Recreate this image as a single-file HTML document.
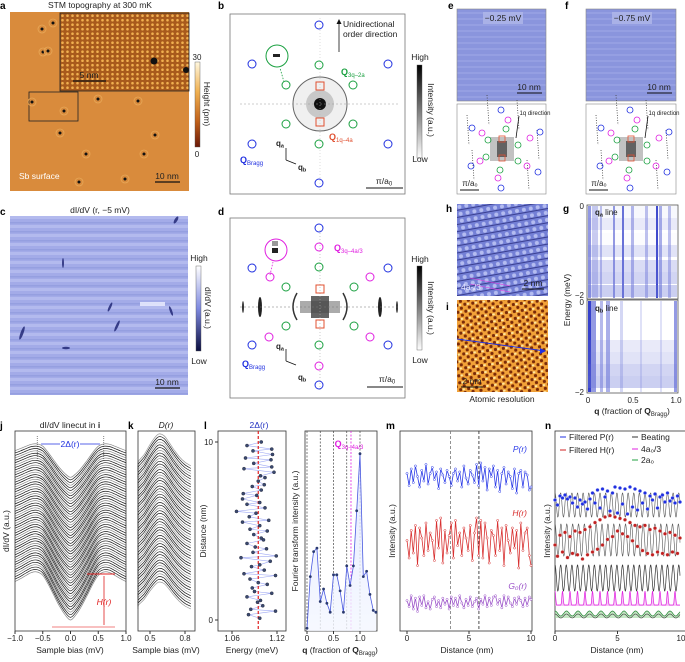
<!DOCTYPE html>
<html><head><meta charset="utf-8"><style>
body{margin:0;background:#fff;}
svg{display:block;font-family:"Liberation Sans",sans-serif;}
text{fill:#222;}
.pl{font-weight:bold;font-size:10px;fill:#000;}
.t{font-size:8.5px;}
.tk{font-size:8px;}
</style></head><body>
<svg id="fig" width="685" height="662" viewBox="0 0 685 662">
<defs>
<pattern id="latA" width="5" height="4.5" patternUnits="userSpaceOnUse"><rect width="5" height="4.5" fill="#a85a1c"/><circle cx="2.5" cy="2.2" r="1.3" fill="#f0b050"/></pattern>
<pattern id="latI" width="8" height="7" patternUnits="userSpaceOnUse" patternTransform="rotate(-8)"><rect width="8" height="7" fill="#f2a238"/><circle cx="2" cy="2" r="1.6" fill="#7a2a08"/><circle cx="6" cy="5.5" r="1.6" fill="#7a2a08"/><ellipse cx="5" cy="2" rx="1.4" ry="1" fill="#ffe9a0"/></pattern>
<pattern id="latH" width="7" height="7" patternUnits="userSpaceOnUse" patternTransform="rotate(-10)"><rect width="7" height="7" fill="#7480d6"/><circle cx="3.5" cy="3.5" r="2" fill="#b4bcf0"/><rect y="6" width="7" height="1" fill="#3a3f90"/></pattern>
<pattern id="stripC" width="178" height="9" patternUnits="userSpaceOnUse"><rect width="178" height="9" fill="#a3abe8"/><rect y="0" width="178" height="3" fill="#b3baee"/><rect y="6" width="178" height="1.5" fill="#959fe0"/></pattern>
<pattern id="stripE" width="90" height="6" patternUnits="userSpaceOnUse"><rect width="90" height="6" fill="#8a95dd"/><rect y="0" width="90" height="2" fill="#959fe2"/></pattern>
<linearGradient id="cbA" x1="0" y1="0" x2="0" y2="1"><stop offset="0" stop-color="#fff8e0"/><stop offset="0.35" stop-color="#f0b050"/><stop offset="0.7" stop-color="#c0601a"/><stop offset="1" stop-color="#6a1808"/></linearGradient>
<linearGradient id="cbC" x1="0" y1="0" x2="0" y2="1"><stop offset="0" stop-color="#ffffff"/><stop offset="0.5" stop-color="#7f8ae0"/><stop offset="1" stop-color="#0a0e40"/></linearGradient>
<linearGradient id="cbB" x1="0" y1="0" x2="0" y2="1"><stop offset="0" stop-color="#000"/><stop offset="1" stop-color="#fff"/></linearGradient>
<linearGradient id="ftFill" x1="0" y1="0" x2="0" y2="1"><stop offset="0" stop-color="#dfe6ff"/><stop offset="1" stop-color="#f4f7ff"/></linearGradient>
</defs>

<g>
<text class="pl" x="0" y="9">a</text>
<text class="t" x="100" y="8" text-anchor="middle">STM topography at 300 mK</text>
<rect x="10" y="12" width="179" height="179" fill="#d98b3c"/>
<rect x="60" y="13" width="129" height="78" fill="url(#latA)" stroke="#222" stroke-width="0.8"/>
<circle cx="154" cy="61" r="3.5" fill="#111"/><circle cx="186" cy="70" r="3" fill="#111"/>
<line x1="73" y1="81" x2="106" y2="81" stroke="#111" stroke-width="1.2"/>
<text class="t" x="89" y="78" text-anchor="middle" fill="#111">5 nm</text>
<rect x="29" y="92" width="49" height="29" fill="none" stroke="#222" stroke-width="0.8"/>
<g id="defects" fill="#111"></g>
<text class="t" x="19" y="179" style="fill:#fff">Sb surface</text>
<line x1="155" y1="182" x2="180" y2="182" stroke="#111" stroke-width="1.2"/>
<text class="t" x="167" y="179" text-anchor="middle">10 nm</text>
<rect x="195" y="62" width="5" height="85" fill="url(#cbA)" stroke="#555" stroke-width="0.4"/>
<text class="tk" x="197" y="60" text-anchor="middle">30</text>
<text class="tk" x="197" y="157" text-anchor="middle">0</text>
<text class="t" transform="translate(204,104) rotate(90)" text-anchor="middle">Height (pm)</text>
</g>

<g>
<text class="pl" x="0" y="215">c</text>
<text class="t" x="100" y="213" text-anchor="middle">dI/dV (r, −5 mV)</text>
<rect x="10" y="216" width="178" height="179" fill="url(#stripC)"/>
<g fill="#1a2070" opacity="0.8">
<ellipse cx="22" cy="333" rx="1.5" ry="7" transform="rotate(20 22 333)"/><ellipse cx="117" cy="326" rx="1.3" ry="6" transform="rotate(25 117 326)"/><ellipse cx="171" cy="311" rx="1.2" ry="5" transform="rotate(-20 171 311)"/><ellipse cx="110" cy="307" rx="1.2" ry="5" transform="rotate(25 110 307)"/><ellipse cx="63" cy="263" rx="1" ry="5"/><ellipse cx="176" cy="220" rx="1.5" ry="4" transform="rotate(30 176 220)"/><ellipse cx="66" cy="348" rx="4" ry="1.3"/>
</g>
<rect x="140" y="302" width="25" height="4" fill="#eef0ff" opacity="0.8"/>
<line x1="155" y1="388" x2="180" y2="388" stroke="#111" stroke-width="1.2"/>
<text class="t" x="167" y="385" text-anchor="middle">10 nm</text>
<text class="t" x="199" y="261" text-anchor="middle">High</text>
<rect x="196" y="266" width="5" height="85" fill="url(#cbC)" stroke="#555" stroke-width="0.4"/>
<text class="t" x="199" y="364" text-anchor="middle">Low</text>
<text class="t" transform="translate(205,308) rotate(90)" text-anchor="middle">dI/dV (a.u.)</text>
</g>

<g id="panelB">
<text class="pl" x="218" y="9">b</text>
<rect x="230" y="14" width="175" height="180" fill="#fff" stroke="#777" stroke-width="0.8"/>
<circle cx="320" cy="104" r="27" fill="#f0f0f0" stroke="#666" stroke-width="1"/>
<circle cx="320" cy="104" r="14" fill="#c8c8c8"/>
<circle cx="320" cy="104" r="6" fill="#111"/>
<line x1="240" y1="104" x2="400" y2="104" stroke="#999" stroke-width="0.6" stroke-dasharray="2 2"/>
<line x1="320" y1="18" x2="320" y2="190" stroke="#bbb" stroke-width="0.5" stroke-dasharray="1 2"/>
<line x1="339" y1="52" x2="339" y2="22" stroke="#111" stroke-width="0.8"/><path d="M336.5 24 L339 19 L341.5 24Z" fill="#111"/>
<text class="t" x="343" y="27">Unidirectional</text><text class="t" x="343" y="37">order direction</text>
<text x="341" y="75" style="font-size:9px;fill:#1aa040;font-weight:bold">Q<tspan style="font-size:6px;font-weight:normal" dy="2">3q–2a</tspan></text>
<text x="329" y="140" style="font-size:9px;fill:#e05030;font-weight:bold">Q<tspan style="font-size:6px;font-weight:normal" dy="2">1q–4a</tspan></text>
<text x="240" y="163" style="font-size:9px;fill:#2030e0;font-weight:bold">Q<tspan style="font-size:6px;font-weight:normal" dy="2">Bragg</tspan></text>
<circle cx="277" cy="56" r="11" fill="none" stroke="#1aa040" stroke-width="1"/><rect x="273" y="54" width="7" height="3" fill="#222"/>
<line x1="284" y1="82" x2="280" y2="68" stroke="#1aa040" stroke-dasharray="1.5 1.5" stroke-width="0.8"/>
<path d="M286 160 L286 148 M286 160 L296 164" stroke="#111" stroke-width="0.8" fill="none"/>
<text x="276" y="146" style="font-size:8px;font-weight:bold">q<tspan style="font-size:5.5px" dy="1.5">a</tspan></text>
<text x="298" y="170" style="font-size:8px;font-weight:bold">q<tspan style="font-size:5.5px" dy="1.5">b</tspan></text>
<line x1="366" y1="188" x2="403" y2="188" stroke="#111" stroke-width="1"/>
<text class="t" x="384" y="184" text-anchor="middle">π/a<tspan style="font-size:6px" dy="1.5">0</tspan></text>
</g>
<g>
<text class="t" x="420" y="60" text-anchor="middle">High</text>
<rect x="417" y="65" width="5" height="93" fill="url(#cbB)" stroke="#555" stroke-width="0.4"/>
<text class="t" x="420" y="162" text-anchor="middle">Low</text>
<text class="t" transform="translate(428,110) rotate(90)" text-anchor="middle">Intensity (a.u.)</text>
</g>

<g id="panelD">
<text class="pl" x="218" y="215">d</text>
<rect x="230" y="218" width="175" height="180" fill="#fff" stroke="#777" stroke-width="0.8"/>
<rect x="311" y="296" width="18" height="22" fill="#222" opacity="0.7"/>
<rect x="300" y="301" width="40" height="12" fill="#444" opacity="0.45"/>
<path d="M297 293 Q289 307 297 320" stroke="#333" fill="none" stroke-width="1.5"/><path d="M343 293 Q351 307 343 320" stroke="#333" fill="none" stroke-width="1.5"/>
<ellipse cx="260" cy="307" rx="2" ry="10" fill="#222"/><ellipse cx="380" cy="307" rx="2" ry="10" fill="#222"/>
<ellipse cx="243" cy="307" rx="1" ry="6" fill="#333"/><ellipse cx="397" cy="307" rx="1" ry="6" fill="#333"/>
<line x1="240" y1="307" x2="400" y2="307" stroke="#777" stroke-width="0.6" stroke-dasharray="2 2"/>
<line x1="320" y1="230" x2="320" y2="390" stroke="#aaa" stroke-width="0.6" stroke-dasharray="1 2"/>
<text x="334" y="251" style="font-size:9px;fill:#e020e0;font-weight:bold">Q<tspan style="font-size:6px;font-weight:normal" dy="2">3q–4a/3</tspan></text>
<text x="242" y="367" style="font-size:9px;fill:#2030e0;font-weight:bold">Q<tspan style="font-size:6px;font-weight:normal" dy="2">Bragg</tspan></text>
<circle cx="276" cy="250" r="11" fill="none" stroke="#e020e0" stroke-width="1"/><rect x="272" y="248" width="6" height="5" fill="#222"/><rect x="272" y="241" width="6" height="5" fill="#999"/>
<line x1="270" y1="275" x2="273" y2="262" stroke="#e020e0" stroke-dasharray="1.5 1.5" stroke-width="0.8"/>
<path d="M286 361 L286 349 M286 361 L296 365" stroke="#111" stroke-width="0.8" fill="none"/>
<text x="276" y="349" style="font-size:8px;font-weight:bold">q<tspan style="font-size:5.5px" dy="1.5">a</tspan></text>
<text x="298" y="380" style="font-size:8px;font-weight:bold">q<tspan style="font-size:5.5px" dy="1.5">b</tspan></text>
<line x1="367" y1="387" x2="403" y2="387" stroke="#111" stroke-width="1"/>
<text class="t" x="387" y="382" text-anchor="middle">π/a<tspan style="font-size:6px" dy="1.5">0</tspan></text>
</g>
<g>
<text class="t" x="420" y="262" text-anchor="middle">High</text>
<rect x="417" y="266" width="5" height="84" fill="url(#cbB)" stroke="#555" stroke-width="0.4"/>
<text class="t" x="420" y="363" text-anchor="middle">Low</text>
<text class="t" transform="translate(428,308) rotate(90)" text-anchor="middle">Intensity (a.u.)</text>
</g>

<g>
<text class="pl" x="448" y="9">e</text>
<rect x="457" y="9" width="89" height="92" fill="url(#stripE)" stroke="#888" stroke-width="0.6"/>
<rect x="483" y="12" width="40" height="12" fill="#b0b8ea" opacity="0.8"/>
<text class="t" x="503" y="21" text-anchor="middle">−0.25 mV</text>
<line x1="517" y1="93" x2="542" y2="93" stroke="#111" stroke-width="1"/><text class="t" x="529" y="90" text-anchor="middle">10 nm</text>
<rect x="457" y="104" width="89" height="90" fill="#fff" stroke="#888" stroke-width="0.6"/>
</g>
<g>
<text class="pl" x="565" y="9">f</text>
<rect x="586" y="9" width="90" height="92" fill="url(#stripE)" stroke="#888" stroke-width="0.6"/>
<rect x="612" y="12" width="40" height="12" fill="#b0b8ea" opacity="0.8"/>
<text class="t" x="632" y="21" text-anchor="middle">−0.75 mV</text>
<line x1="647" y1="93" x2="672" y2="93" stroke="#111" stroke-width="1"/><text class="t" x="659" y="90" text-anchor="middle">10 nm</text>
<rect x="586" y="104" width="90" height="90" fill="#fff" stroke="#888" stroke-width="0.6"/>
</g>

<g>
<text class="pl" x="446" y="212">h</text>
<rect x="457" y="204" width="91" height="92" fill="url(#latH)"/>
<line x1="470" y1="278" x2="510" y2="286" stroke="#e040e0" stroke-width="0.6"/><line x1="470" y1="284" x2="510" y2="292" stroke="#e040e0" stroke-width="0.6"/>
<text class="t" x="461" y="290" style="fill:#e8e8ff">4a<tspan style="font-size:6px" dy="1.5">0</tspan><tspan dy="-1.5">/3</tspan></text>
<line x1="522" y1="289" x2="544" y2="289" stroke="#111" stroke-width="1"/><text class="t" x="533" y="286" text-anchor="middle">2 nm</text>
</g>
<g>
<text class="pl" x="446" y="310">i</text>
<rect x="457" y="300" width="91" height="92" fill="url(#latI)"/>
<line x1="457" y1="339" x2="545" y2="351" stroke="#2030e0" stroke-width="1"/><path d="M546 351 L540 348 L540 354Z" fill="#2030e0"/>
<line x1="461" y1="387" x2="483" y2="387" stroke="#111" stroke-width="1"/><text class="t" x="472" y="384" text-anchor="middle">2 nm</text>
<text class="t" x="502" y="402" text-anchor="middle">Atomic resolution</text>
</g>

<g id="panelG">
<text class="pl" x="563" y="212">g</text>
<rect x="587" y="205" width="91" height="94" fill="#fff" stroke="#555" stroke-width="0.8"/>
<rect x="587" y="300" width="91" height="93" fill="#fff" stroke="#555" stroke-width="0.8"/>
</g>
<g>
<text class="tk" x="584" y="209" text-anchor="end">0</text>
<text class="tk" x="584" y="298" text-anchor="end">−2</text>
<text class="tk" x="584" y="305" text-anchor="end">0</text>
<text class="tk" x="584" y="395" text-anchor="end">−2</text>
<text class="t" transform="translate(570,300) rotate(-90)" text-anchor="middle">Energy (meV)</text>
<text class="tk" x="588" y="403" text-anchor="middle">0</text>
<text class="tk" x="633" y="403" text-anchor="middle">0.5</text>
<text class="tk" x="676" y="403" text-anchor="middle">1.0</text>
<text class="t" x="632" y="414" text-anchor="middle"><tspan font-weight="bold">q</tspan> (fraction of <tspan font-weight="bold">Q</tspan><tspan style="font-size:6px" dy="2">Bragg</tspan><tspan dy="-2">)</tspan></text>
<text x="595" y="215" style="font-size:8px;font-weight:bold">q<tspan style="font-size:5.5px" dy="1.5">a</tspan><tspan dy="-1.5" font-weight="normal"> line</tspan></text>
<text x="595" y="311" style="font-size:8px;font-weight:bold">q<tspan style="font-size:5.5px" dy="1.5">b</tspan><tspan dy="-1.5" font-weight="normal"> line</tspan></text>
</g>

<g>
<text class="pl" x="0" y="429">j</text>
<text class="t" x="70" y="428" text-anchor="middle">dI/dV linecut in <tspan font-weight="bold">i</tspan></text>
<text class="pl" x="128" y="429">k</text>
<text class="t" x="166" y="428" text-anchor="middle" font-style="italic">D(r)</text>
<text class="pl" x="204" y="429">l</text>
<text class="t" x="259" y="428" text-anchor="middle" style="fill:#2030c0">2Δ(r)</text>
<text class="pl" x="386" y="429">m</text>
<text class="pl" x="545" y="429">n</text>
</g>
<g id="charts"></g>
</svg>
<script>
// ===== data arrays =====
const linecutBias = [-1.0,-0.9,-0.8,-0.7,-0.6,-0.5,-0.4,-0.3,-0.2,-0.1,0,0.1,0.2,0.3,0.4,0.5,0.6,0.7,0.8,0.9,1.0];
const linecutShape = [0.80,0.86,0.93,0.99,1.0,0.93,0.74,0.51,0.29,0.11,0.0,0.11,0.29,0.51,0.74,0.93,1.0,0.99,0.93,0.86,0.80];
const linecutOffsets = [0,2.6,5.3,7.9,10.6,13.2,15.9,18.5,21.1,23.8,26.4,29.1,31.7,34.4,37.0,39.6,42.3,44.9,47.6,50.2,52.8,55.5,58.1,60.8,63.4,66.1,68.7,71.3,74.0,76.6,79.3,81.9,84.6,87.2,89.8,92.5,95.1,97.8,100.4,103.1,105.7,108.3,111.0,113.6,116.3,118.9,121.6,124.2,126.8,129.5,132.1,134.8,137.4,140.1,142.7];
const dBias = [0.35,0.40,0.45,0.50,0.55,0.58,0.62,0.66,0.70,0.75,0.80,0.85];
const dShape = [0.10,0.22,0.42,0.70,0.93,1.0,0.95,0.78,0.58,0.36,0.20,0.10];
const gapDistance = [0.1,0.3,0.5,0.6,0.8,1.0,1.1,1.3,1.5,1.6,1.8,2.0,2.1,2.3,2.5,2.6,2.8,3.0,3.1,3.3,3.5,3.6,3.8,4.0,4.1,4.3,4.5,4.6,4.8,5.0,5.1,5.3,5.5,5.6,5.8,6.0,6.1,6.3,6.5,6.6,6.8,7.0,7.1,7.3,7.5,7.6,7.8,8.0,8.1,8.3,8.5,8.6,8.8,9.0,9.1,9.3,9.5,9.6,9.8,10.0];
const gapEnergy = [1.097,1.082,1.118,1.085,1.101,1.094,1.098,1.080,1.113,1.090,1.087,1.107,1.095,1.084,1.118,1.076,1.103,1.086,1.097,1.111,1.072,1.119,1.088,1.106,1.091,1.080,1.102,1.099,1.089,1.107,1.084,1.097,1.074,1.109,1.083,1.092,1.066,1.104,1.080,1.097,1.074,1.093,1.075,1.099,1.087,1.103,1.095,1.104,1.098,1.116,1.076,1.113,1.089,1.112,1.078,1.114,1.088,1.113,1.080,1.099];
const ftQ = [0,0.0625,0.125,0.1875,0.25,0.3125,0.375,0.4375,0.5,0.5625,0.625,0.6875,0.75,0.8125,0.875,0.9375,1.0,1.0625,1.125,1.1875,1.25,1.3];
const ftIntensity = [0.1,3.0,4.4,4.6,1.6,2.3,1.5,1.0,3.1,3.1,2.2,1.0,3.6,2.5,3.6,6.7,9.9,3.0,3.3,2.0,1.1,1.0];
const ftGuideQ = [0,0.25,0.5,0.75,1.0];
const mDistance = [0,0.17,0.34,0.51,0.68,0.85,1.02,1.19,1.36,1.53,1.7,1.87,2.04,2.21,2.38,2.55,2.72,2.89,3.06,3.23,3.4,3.57,3.74,3.91,4.08,4.25,4.42,4.59,4.76,4.93,5.1,5.27,5.44,5.61,5.78,5.95,6.12,6.29,6.46,6.63,6.8,6.97,7.14,7.31,7.48,7.65,7.82,7.99,8.16,8.33,8.5,8.67,8.84,9.01,9.18,9.35,9.52,9.69,9.86,10.0];
const mP = [0.3,-0.5,0.6,-0.3,0.8,0.1,-0.6,0.5,-0.2,0.9,-0.4,0.3,0.7,-0.1,0.4,-0.7,0.6,0.2,-0.3,0.5,0.1,-0.5,0.3,0.6,-0.2,0.4,-0.6,0.8,0.0,-0.4,0.5,0.2,-0.3,0.9,-0.5,1.0,-0.2,0.7,-0.8,0.6,0.1,0.8,-0.6,0.5,-0.9,0.3,0.7,-0.4,0.4,0.1,-0.7,0.6,-1.0,0.3,0.5,-0.6,0.4,0.2,-0.8,-0.6];
const mH = [0.1,-0.6,0.5,-0.4,0.7,-0.9,0.6,0.2,-0.5,0.8,-0.3,0.4,0.1,-0.7,0.9,-0.2,1.0,-0.8,0.5,-0.4,0.3,0.8,-0.6,0.9,-0.1,0.4,-0.5,0.6,0.2,-0.3,0.7,-0.7,0.4,1.0,-0.5,0.9,-0.6,0.8,0.2,-0.8,0.5,0.3,-0.5,0.9,-0.3,0.6,-0.9,0.7,0.1,-0.4,0.6,-0.2,0.5,-1.0,0.8,-0.3,0.4,0.6,-0.5,-0.9];
const mG = [0.2,-0.3,0.6,-0.5,0.4,-0.7,0.5,-0.2,0.6,-0.4,0.1,-0.5,0.3,0.5,-0.3,0.2,-0.4,0.4,-0.1,0.3,-0.5,0.5,-0.2,0.4,-0.3,0.6,0.0,-0.4,0.3,-0.2,0.5,-0.3,0.1,0.4,-0.5,0.3,-0.1,0.6,-0.3,0.4,-0.2,0.5,0.6,-0.1,0.3,-0.4,0.6,-0.2,0.5,0.0,-0.3,0.4,-0.1,0.5,0.2,-0.3,0.4,-0.2,0.5,0.3];
const mGuides = [3.5,5.8];
const nDistance = [0,0.2,0.4,0.6,0.8,1.0,1.2,1.4,1.6,1.8,2.0,2.2,2.4,2.6,2.8,3.0,3.2,3.4,3.6,3.8,4.0,4.2,4.4,4.6,4.8,5.0,5.2,5.4,5.6,5.8,6.0,6.2,6.4,6.6,6.8,7.0,7.2,7.4,7.6,7.8,8.0,8.2,8.4,8.6,8.8,9.0,9.2,9.4,9.6,9.8,10.0];
const nP = [0.5,0.0,0.9,0.7,1.0,0.6,0.8,0.2,0.7,-0.2,0.5,0.1,0.3,-0.4,0.6,1.2,0.2,1.5,-0.3,1.6,0.8,1.4,-0.6,1.2,1.8,-0.8,1.7,0.1,1.6,-0.9,1.8,-0.2,1.6,-0.5,1.4,0.2,1.2,-0.4,0.9,0.5,1.1,-0.3,0.8,1.0,0.3,1.2,0.4,0.7,0.2,0.9,0.3];
const nH = [0.0,-0.8,0.7,-0.5,0.9,-0.9,0.6,-0.6,1.0,-0.7,0.9,-1.0,1.1,-0.7,1.3,-0.5,1.6,-0.3,1.8,0.0,2.0,0.4,2.1,0.6,2.0,1.0,1.9,0.8,1.8,0.6,1.6,0.3,1.4,-0.1,1.3,-0.4,1.4,-0.6,1.1,-0.7,1.2,-0.5,1.0,-0.6,0.8,-0.7,0.9,-0.5,0.7,-0.6,0.5];
const beatingPeriods = [0.45,0.47];
const period43 = 0.6;
const period2 = 0.92;

// ===== helpers =====
const NS = "http://www.w3.org/2000/svg";
const root = document.getElementById('charts');
function mk(tag, attrs, parent){ const e=document.createElementNS(NS,tag); for(const k in attrs) e.setAttribute(k,attrs[k]); (parent||root).appendChild(e); return e; }
function txt(x,y,s,cls,anchor,parent){ const t=mk('text',{x:x,y:y,class:cls||'tk','text-anchor':anchor||'middle'},parent); t.textContent=s; return t; }
function smooth(pts){ let d='M'+pts[0][0].toFixed(1)+' '+pts[0][1].toFixed(1); for(let i=0;i<pts.length-1;i++){const p0=pts[Math.max(i-1,0)],p1=pts[i],p2=pts[i+1],p3=pts[Math.min(i+2,pts.length-1)]; d+=' C'+(p1[0]+(p2[0]-p0[0])/6).toFixed(1)+' '+(p1[1]+(p2[1]-p0[1])/6).toFixed(1)+' '+(p2[0]-(p3[0]-p1[0])/6).toFixed(1)+' '+(p2[1]-(p3[1]-p1[1])/6).toFixed(1)+' '+p2[0].toFixed(1)+' '+p2[1].toFixed(1);} return d; }
function poly(pts){ return pts.map((p,i)=>(i?'L':'M')+p[0].toFixed(1)+' '+p[1].toFixed(1)).join(' '); }

// ===== image decorations =====
(function(){
 const dg=document.getElementById('defects');
 const defects=[[53,23],[42,29],[43,52],[48,51],[64,111],[98,99],[138,101],[60,133],[155,135],[86,154],[144,154],[79,182],[125,179],[32,102]];
 defects.forEach(p=>{ const r=mk('circle',{cx:p[0],cy:p[1],r:4,fill:'none',stroke:'#e8a858','stroke-width':0.8},dg);
  
 const c=mk('circle',{cx:p[0],cy:p[1],r:1.5,fill:'#111'},dg);
   });
 const b=document.getElementById('panelB'), d=document.getElementById('panelD');
 const circ=(g,arr,col)=>arr.forEach(p=>{const c=mk('circle',{cx:p[0],cy:p[1],r:4,fill:'none',stroke:col,'stroke-width':1},g);
  });
 const sq=(g,arr)=>arr.forEach(p=>{const s=mk('rect',{x:p[0]-4,y:p[1]-4,width:8,height:8,fill:'none',stroke:'#e05030','stroke-width':1},g);
  });
 circ(b,[[319,25],[252,64],[388,64],[252,144],[388,144],[319,183]],'#2030e0');
 circ(b,[[319,65],[286,85],[353,85],[286,124],[353,124],[319,144]],'#1aa040');
 sq(b,[[320,86],[320,122]]);
 circ(d,[[319,228],[252,268],[388,268],[252,345],[388,345],[319,385]],'#2030e0');
 circ(d,[[319,247],[270,277],[370,277],[269,337],[370,337],[319,366]],'#e020e0');
 circ(d,[[319,267],[286,287],[354,287],[286,326],[354,326],[319,345]],'#1aa040');
 sq(d,[[320,289],[320,324]]);
 [[457,0],[586,1]].forEach(([x0,k])=>{
  const cx=x0+45, cy=149;
  const g=mk('g',{});
   
  mk('rect',{x:cx-12,y:cy-12,width:24,height:24,fill:'#777',opacity:0.45},g);
  mk('rect',{x:cx-5,y:cy-8,width:10,height:16,fill:'#222',opacity:0.6},g);
  [[x0+10,130],[x0+80,145],[x0+15,165],[x0+30,110],[x0+60,115],[x0+70,175]].forEach(p=>mk('line',{x1:p[0],y1:p[1]-15,x2:p[0]+2,y2:p[1]+15,stroke:'#444','stroke-width':0.8,'stroke-dasharray':'1 1.5'},g));
  const B=[[cx-30,128],[cx+38,132],[cx-31,166],[cx+36,172],[cx-1,110],[cx-1,188]];
  const M=[[cx-20,133],[cx+28,138],[cx-22,161],[cx+25,166],[cx+6,120],[cx-4,178]];
  const G=[[cx-14,140],[cx+16,145],[cx-16,157],[cx+16,161],[cx+4,129],[cx-2,170]];
  B.forEach(p=>mk('circle',{cx:p[0],cy:p[1],r:3,fill:'none',stroke:'#2030e0','stroke-width':0.8},g));
  M.forEach(p=>mk('circle',{cx:p[0],cy:p[1],r:3,fill:'none',stroke:'#e020e0','stroke-width':0.8},g));
  G.forEach(p=>mk('circle',{cx:p[0],cy:p[1],r:3,fill:'none',stroke:'#1aa040','stroke-width':0.8},g));
  mk('rect',{x:cx-3,y:136,width:6,height:6,fill:'none',stroke:'#e05030','stroke-width':0.8},g);
  mk('rect',{x:cx-3,y:155,width:6,height:6,fill:'none',stroke:'#e05030','stroke-width':0.8},g);
  mk('line',{x1:cx+14,y1:138,x2:cx+17,y2:116,stroke:'#111','stroke-width':0.8},g);
  txt(cx+33,115,'1q direction','tk','middle',g).setAttribute('style','font-size:6px');
  mk('line',{x1:x0+3,y1:190,x2:x0+22,y2:190,stroke:'#111','stroke-width':1},g);
  txt(x0+13,186,'π/a₀','tk','middle',g);
 });
 const pg=document.getElementById('panelG');
 const gCols=[[588,3,0.5],[592,6,0.25],[600,2,0.3],[613,2,0.5],[622,2,0.7],[631,3,0.35],[645,3,0.3],[656,2,0.9],[659,3,0.4],[668,3,0.3]];
 gCols.forEach(c=>{const r=mk('rect',{x:c[0],y:206,width:c[1],height:92,fill:'#2a36c8',opacity:c[2]},pg);  });
 const gRows=[[206,0.05],[218,0.15],[233,0.02],[245,0.2],[260,0.25],[272,0.3],[285,0.35]];
 gRows.forEach(r=>mk('rect',{x:588,y:r[0],width:89,height:12,fill:'#6b75d8',opacity:r[1]},pg));
 const gCols2=[[588,3,0.95],[591,5,0.5],[600,3,0.35],[606,4,0.4],[620,3,0.2],[640,2,0.15],[660,2,0.15],[674,3,0.5]];
 gCols2.forEach(c=>{const r=mk('rect',{x:c[0],y:301,width:c[1],height:91,fill:'#2a36c8',opacity:c[2]},pg);  });
 [[340,0.15],[352,0.2],[364,0.3],[376,0.35]].forEach(r=>mk('rect',{x:588,y:r[0],width:89,height:12,fill:'#6b75d8',opacity:r[1]},pg));
})();

// ===== panel j =====
(function(){
 const X0=15,X1=126,Y0=431,Y1=631;
 const g=mk('g',{});  
 const x=b=>70.5+b*55.5;
 linecutOffsets.forEach((o,i)=>{
  const depth=48-i*0.27;
  const pts=linecutBias.map((b,k)=>[x(b),620-o-linecutShape[k]*depth]);
  const path=mk('path',{d:smooth(pts),fill:'none',stroke:i%3===0?'#888':'#1a1a1a','stroke-width':0.7},g);
   
 });
 mk('rect',{x:X0,y:Y0,width:X1-X0,height:Y1-Y0,fill:'none',stroke:'#333','stroke-width':0.8},g);
 [-1,-0.5,0,0.5,1].forEach(v=>{mk('line',{x1:x(v),y1:Y1,x2:x(v),y2:Y1+3,stroke:'#333'},g); txt(x(v),641,(v<0?'−':'')+Math.abs(v).toFixed(1));});
 txt(70,653,'Sample bias (mV)','t');
 const yl=txt(0,0,'dI/dV (a.u.)','t'); yl.setAttribute('transform','translate(9,531) rotate(-90)');
 mk('line',{x1:x(-0.6),y1:436,x2:x(-0.6),y2:460,stroke:'#333','stroke-dasharray':'1 1','stroke-width':0.6},g);
 mk('line',{x1:x(0.6),y1:436,x2:x(0.6),y2:460,stroke:'#333','stroke-dasharray':'1 1','stroke-width':0.6},g);
 mk('line',{x1:x(-0.53),y1:444,x2:x(0.53),y2:444,stroke:'#2030e0','stroke-width':0.8},g);
 mk('rect',{x:60,y:440,width:20,height:9,fill:'#fff'},g);
 const l=txt(70,447,'2Δ(r)','t'); l.setAttribute('style','fill:#2030e0');
 mk('line',{x1:87,y1:574,x2:115,y2:574,stroke:'#e02020','stroke-width':1},g);
 mk('line',{x1:52,y1:627,x2:115,y2:627,stroke:'#f08080','stroke-width':1},g);
 mk('line',{x1:104,y1:576,x2:104,y2:625,stroke:'#e02020','stroke-width':0.8},g);
 const h=txt(104,605,'H(r)','t'); h.setAttribute('style','fill:#e02020;font-style:italic');
})();

// ===== panel k =====
(function(){
 const X0=138,X1=195,Y0=431,Y1=631;
 const g=mk('g',{});  
 const x=b=>150+(b-0.5)*116.7;
 linecutOffsets.forEach((o,i)=>{
  const pts=dBias.map((b,k)=>[Math.max(X0,Math.min(X1,x(b))),612-o-dShape[k]*(30+i*0.1)]);
  const p=mk('path',{d:smooth(pts),fill:'none',stroke:i%3===0?'#999':'#1a1a1a','stroke-width':0.7},g);
   
 });
 mk('rect',{x:X0,y:Y0,width:X1-X0,height:Y1-Y0,fill:'none',stroke:'#333','stroke-width':0.8},g);
 [0.5,0.8].forEach(v=>{mk('line',{x1:x(v),y1:Y1,x2:x(v),y2:Y1+3,stroke:'#333'},g); txt(x(v),641,v.toFixed(1));});
 txt(166,653,'Sample bias (mV)','t');
})();

// ===== panel l (gap) =====
(function(){
 const X0=218,X1=286,Y0=431,Y1=631;
 const g=mk('g',{});  
 const x=e=>232+(e-1.06)*750, y=d=>620-d*17.8;
 mk('rect',{x:X0,y:Y0,width:X1-X0,height:Y1-Y0,fill:'#fff',stroke:'#333','stroke-width':0.8},g);
 const pts=gapEnergy.map((e,i)=>[x(e),y(gapDistance[i])]);
 mk('path',{d:poly(pts),fill:'none',stroke:'#a0aaf4','stroke-width':0.6},g);
 mk('line',{x1:x(1.095),y1:Y0,x2:x(1.095),y2:Y1,stroke:'#e02020','stroke-width':1.2,'stroke-dasharray':'3 2'},g);
 pts.forEach(p=>{const c=mk('circle',{cx:p[0],cy:p[1],r:1.6,fill:'#3a4a70',stroke:'#223','stroke-width':0.4},g);
  });
 [1.06,1.12].forEach(v=>{mk('line',{x1:x(v),y1:Y1,x2:x(v),y2:Y1+3,stroke:'#333'},g); txt(x(v),641,v.toFixed(2));});
 [0,10].forEach(v=>{mk('line',{x1:X0-3,y1:y(v),x2:X0,y2:y(v),stroke:'#333'},g); txt(X0-5,y(v)+3,String(v),'tk','end');});
 const yl=txt(0,0,'Distance (nm)','t'); yl.setAttribute('transform','translate(206,531) rotate(-90)');
 txt(252,653,'Energy (meV)','t');
})();

// ===== panel l (FT) =====
(function(){
 const X0=305,X1=377,Y0=431,Y1=631;
 const g=mk('g',{});  
 const x=q=>307+q*53, y=v=>630-v*17.8;
 mk('rect',{x:X0,y:Y0,width:X1-X0,height:Y1-Y0,fill:'#fff',stroke:'#333','stroke-width':0.8},g);
 ftGuideQ.forEach((q,i)=>mk('line',{x1:x(q),y1:Y0,x2:x(q),y2:Y1,stroke:'#444','stroke-width':0.7,'stroke-dasharray':'2 1.5'},g));
 mk('line',{x1:x(0.83),y1:Y0,x2:x(0.83),y2:Y1,stroke:'#e020e0','stroke-width':0.8,'stroke-dasharray':'2 1.5'},g);
 const pts=ftQ.map((q,i)=>[x(q),y(ftIntensity[i])]);
 mk('path',{d:poly(pts)+' L'+x(ftQ[ftQ.length-1])+' '+Y1+' L'+x(0)+' '+Y1+'Z',fill:'url(#ftFill)',opacity:0.8},g);
 mk('path',{d:poly(pts),fill:'none',stroke:'#4a5ae0','stroke-width':0.8},g);
 pts.forEach(p=>{const c=mk('circle',{cx:p[0],cy:p[1],r:1.4,fill:'#2a3a70'},g);
  });
 [0,0.5,1.0].forEach(v=>{mk('line',{x1:x(v),y1:Y1,x2:x(v),y2:Y1+3,stroke:'#333'},g); txt(x(v),641,v===0?'0':v.toFixed(1));});
 const yl=txt(0,0,'Fourier transform intensity (a.u.)','t'); yl.setAttribute('transform','translate(298,531) rotate(-90)');
 const xl=txt(340,653,'','t'); xl.innerHTML='<tspan font-weight="bold">q</tspan> (fraction of <tspan font-weight="bold">Q</tspan><tspan style="font-size:6px" dy="2">Bragg</tspan><tspan dy="-2">)</tspan>';
 const lb=txt(349,447,'','t','middle'); lb.innerHTML='<tspan style="fill:#e020e0;font-weight:bold;font-size:9px">Q</tspan><tspan style="fill:#e020e0;font-size:6px" dy="2">3q–4a/3</tspan>';
})();

// ===== panel m =====
(function(){
 const X0=400,X1=532,Y0=431,Y1=631;
 const g=mk('g',{});  
 const x=d=>407+d*12.4;
 mk('rect',{x:X0,y:Y0,width:X1-X0,height:Y1-Y0,fill:'#fff',stroke:'#333','stroke-width':0.8},g);
 mGuides.forEach((d,i)=>mk('line',{x1:x(d),y1:Y0,x2:x(d),y2:Y1,stroke:i?'#222':'#777','stroke-width':0.8,'stroke-dasharray':'3 2'},g));
 [[mP,478,15,'#2a3ae8','P(r)',452],[mH,543,25,'#d83030','H(r)',516],[mG,603,12,'#9a50c8','G₀(r)',589]].forEach(s=>{
  const pts=s[0].map((v,i)=>[x(mDistance[i]),s[1]-v*s[2]]);
  mk('path',{d:poly(pts),fill:'none',stroke:s[3],'stroke-width':0.8},g);
  pts.forEach(p=>{const c=mk('circle',{cx:p[0],cy:p[1],r:1.1,fill:'#fff',stroke:s[3],'stroke-width':0.5},g);
   });
  const t=txt(527,s[5],s[4],'t','end'); t.setAttribute('style','font-style:italic;fill:'+s[3]);
 });
 [0,5,10].forEach(v=>{mk('line',{x1:x(v),y1:Y1,x2:x(v),y2:Y1+3,stroke:'#333'},g); txt(x(v),641,String(v));});
 const yl=txt(0,0,'Intensity (a.u.)','t'); yl.setAttribute('transform','translate(395,531) rotate(-90)');
 txt(467,653,'Distance (nm)','t');
})();

// ===== panel n =====
(function(){
 const X0=555,X1=690,Y0=431,Y1=631;
 const g=mk('g',{});  
 const x=d=>555+d*12.5;
 mk('rect',{x:X0,y:Y0,width:X1-X0,height:Y1-Y0,fill:'#fff',stroke:'#333','stroke-width':0.8},g);
 const curve=(fn,n)=>{const p=[];for(let i=0;i<=n;i++){const d=10*i/n;p.push([x(d),fn(d)]);}return p;};
 const pink=curve(d=>605-14*Math.pow(Math.max(0,Math.cos(2*Math.PI*d/period43)),3),300);
 mk('path',{d:poly(pink)+' L'+x(10)+' 606 L'+x(0)+' 606Z',fill:'#f0a0f0',opacity:0.6},g);
 mk('path',{d:poly(pink),fill:'none',stroke:'#e020e0','stroke-width':0.7},g);
 const green=curve(d=>616-5*(0.5+0.5*Math.cos(2*Math.PI*d/period2)),300);
 mk('path',{d:poly(green)+' L'+x(10)+' 618 L'+x(0)+' 618Z',fill:'#a0d8a0',opacity:0.6},g);
 mk('path',{d:poly(green),fill:'none',stroke:'#208030','stroke-width':0.7},g);
 mk('path',{d:poly(curve(d=>618-4*(0.5+0.5*Math.cos(2*Math.PI*d/period2)),300)),fill:'none',stroke:'#333','stroke-width':0.6},g);
 mk('path',{d:poly(curve(d=>578-13*Math.cos(2*Math.PI*d/beatingPeriods[0]),500)),fill:'none',stroke:'#333','stroke-width':0.7},g);
 mk('path',{d:poly(curve(d=>540-16*Math.cos(2*Math.PI*d/beatingPeriods[1]),500)),fill:'none',stroke:'#555','stroke-width':0.6},g);
 mk('path',{d:poly(curve(d=>505-12*Math.cos(2*Math.PI*d/beatingPeriods[0]),500)),fill:'none',stroke:'#555','stroke-width':0.6},g);
 [[nP,505,10,'#2030e0'],[nH,545,14,'#c02020']].forEach(s=>{
  s[0].forEach((v,i)=>{const c=mk('circle',{cx:x(nDistance[i]),cy:s[1]-v*s[2],r:1.8,fill:s[3],stroke:'#fff','stroke-width':0.3},g);
   });
 });
 const leg=mk('g',{});  
 [[560,440,'#2030e0','Filtered P(r)'],[560,453,'#d02020','Filtered H(r)'],[632,440,'#333','Beating'],[632,452,'#e020e0','4a₀/3'],[632,463,'#20a040','2a₀']].forEach(e=>{
  mk('line',{x1:e[0],y1:e[1]-3,x2:e[0]+6,y2:e[1]-3,stroke:e[2],'stroke-width':1},leg);
  txt(e[0]+9,e[1],e[3],'t','start',leg);
 });
 [0,5].forEach(v=>{mk('line',{x1:x(v),y1:Y1,x2:x(v),y2:Y1+3,stroke:'#333'},g); txt(x(v),641,String(v));});
 txt(681,641,'10','tk','middle');
 const yl=txt(0,0,'Intensity (a.u.)','t'); yl.setAttribute('transform','translate(550,531) rotate(-90)');
 txt(617,653,'Distance (nm)','t');
})();
</script>
</body></html>
